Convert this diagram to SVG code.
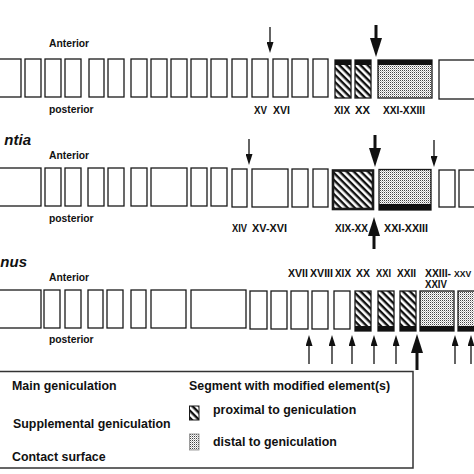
<svg xmlns="http://www.w3.org/2000/svg" width="474" height="474" viewBox="0 0 474 474">
<style>
.box{fill:#fff;stroke:#1a1a1a;stroke-width:1.3}
.hat{fill:url(#hatch);stroke:#1a1a1a;stroke-width:1.3}
.stp{fill:url(#stip);stroke:#1a1a1a;stroke-width:1.3}
.band{fill:#111}
.t{font-family:"Liberation Sans",Arial,sans-serif;font-weight:bold;fill:#111}
.pos{font-size:10.3px}
.num{font-size:11px}
.leg{font-size:12.4px}
.ttl{font-size:15px;font-style:italic}
.thin{stroke:#111;stroke-width:1.3;fill:none;marker-end:url(#hThin)}
.thick{stroke:#111;stroke-width:3;fill:none;marker-end:url(#hThick)}
</style>
<defs>
<pattern id="hatch" width="5" height="5" patternUnits="userSpaceOnUse" patternTransform="rotate(45)">
<rect width="5" height="5" fill="#fff"/><rect width="5" height="2.4" fill="#111"/>
</pattern>
<pattern id="stip" width="2" height="2" patternUnits="userSpaceOnUse">
<rect width="2" height="2" fill="#fff"/><rect width="1" height="1" fill="#444"/><rect x="1" y="1" width="1" height="1" fill="#bbb"/>
</pattern>
<marker id="hThin" viewBox="0 0 11 7" markerWidth="11" markerHeight="7" refX="5" refY="3.5" orient="auto" markerUnits="userSpaceOnUse"><path d="M0,0 L11,3.5 L0,7 z" fill="#111"/></marker>
<marker id="hThick" viewBox="0 0 19 12" markerWidth="19" markerHeight="12" refX="8" refY="6" orient="auto" markerUnits="userSpaceOnUse"><path d="M0,0 L19,6 L0,12 z" fill="#111"/></marker>
</defs>
<rect width="474" height="474" fill="#fff"/>

<g id="row1">
<text class="t pos" x="49" y="47">Anterior</text>
<text class="t pos" x="49" y="113">posterior</text>
<g id="row1-plain">
<rect class="box" x="-20" y="59" width="41" height="38"/>
<rect class="box" x="25" y="59" width="16" height="38"/>
<rect class="box" x="45" y="59" width="16" height="38"/>
<rect class="box" x="65" y="59" width="16" height="38"/>
<rect class="box" x="89" y="59" width="15" height="38"/>
<rect class="box" x="108" y="59" width="16" height="38"/>
<rect class="box" x="131" y="59" width="16" height="38"/>
<rect class="box" x="151" y="59" width="16" height="38"/>
<rect class="box" x="171" y="59" width="16" height="38"/>
<rect class="box" x="191" y="59" width="16" height="38"/>
<rect class="box" x="211" y="59" width="16" height="38"/>
<rect class="box" x="232" y="59" width="15" height="38"/>
<rect class="box" x="252" y="59" width="16" height="38"/>
<rect class="box" x="273" y="59" width="15" height="38"/>
<rect class="box" x="292" y="59" width="16" height="38"/>
<rect class="box" x="313" y="59" width="15" height="38"/>
<rect class="box" x="439" y="60" width="60" height="39"/>
</g>
<g id="row1-XIX"><rect class="hat" x="335" y="60" width="16" height="38"/><rect class="band" x="335" y="60" width="16" height="5"/></g>
<g id="row1-XX"><rect class="hat" x="355" y="60" width="16" height="38"/><rect class="band" x="355" y="60" width="16" height="5"/></g>
<g id="row1-XXI-XXIII"><rect class="stp" x="378" y="60" width="54" height="38"/><rect class="band" x="378" y="60" width="54" height="5"/></g>
<text class="t num" x="254" y="114" textLength="13" lengthAdjust="spacingAndGlyphs">XV</text>
<text class="t num" x="273" y="114" textLength="17" lengthAdjust="spacingAndGlyphs">XVI</text>
<text class="t num" x="334" y="114" textLength="16" lengthAdjust="spacingAndGlyphs">XIX</text>
<text class="t num" x="355" y="114" textLength="15" lengthAdjust="spacingAndGlyphs">XX</text>
<text class="t num" x="383" y="114" textLength="42" lengthAdjust="spacingAndGlyphs">XXI-XXIII</text>
</g>

<g id="row2">
<text class="t ttl" x="31" y="145" text-anchor="end">ntia</text>
<text class="t pos" x="49" y="159">Anterior</text>
<text class="t pos" x="49" y="222">posterior</text>
<g id="row2-plain">
<rect class="box" x="-20" y="168" width="61" height="38"/>
<rect class="box" x="45" y="168" width="16" height="38"/>
<rect class="box" x="65" y="168" width="16" height="38"/>
<rect class="box" x="88" y="168" width="16" height="38"/>
<rect class="box" x="108" y="168" width="16" height="38"/>
<rect class="box" x="131" y="168" width="16" height="38"/>
<rect class="box" x="151" y="168" width="36" height="38"/>
<rect class="box" x="191" y="168" width="16" height="38"/>
<rect class="box" x="211" y="168" width="16" height="38"/>
<rect class="box" x="232" y="169" width="15" height="38"/>
<rect class="box" x="252" y="169" width="36" height="38"/>
<rect class="box" x="292" y="169" width="16" height="38"/>
<rect class="box" x="313" y="169" width="15" height="38"/>
<rect class="box" x="439" y="170" width="16" height="37"/>
<rect class="box" x="459" y="170" width="40" height="37"/>
</g>
<g id="row2-XIX-XX"><rect class="hat" x="333" y="170.5" width="40" height="38.5" style="stroke-width:2.6"/></g>
<g id="row2-XXI-XXIII"><rect class="stp" x="379" y="169.5" width="52" height="40.5"/><rect class="band" x="379" y="204" width="52" height="6"/></g>
<text class="t num" x="232" y="232" textLength="15" lengthAdjust="spacingAndGlyphs">XIV</text>
<text class="t num" x="252" y="232" textLength="35" lengthAdjust="spacingAndGlyphs">XV-XVI</text>
<text class="t num" x="335" y="232" textLength="33" lengthAdjust="spacingAndGlyphs">XIX-XX</text>
<text class="t num" x="384" y="232" textLength="44" lengthAdjust="spacingAndGlyphs">XXI-XXIII</text>
</g>

<g id="row3">
<text class="t ttl" x="27" y="267" text-anchor="end">nus</text>
<text class="t pos" x="49" y="281">Anterior</text>
<text class="t pos" x="49" y="343">posterior</text>
<g id="row3-plain">
<rect class="box" x="-20" y="290" width="61" height="38"/>
<rect class="box" x="44" y="290" width="16" height="38"/>
<rect class="box" x="65" y="290" width="16" height="38"/>
<rect class="box" x="88" y="290" width="15" height="38"/>
<rect class="box" x="107" y="290" width="16" height="38"/>
<rect class="box" x="131" y="290" width="15" height="38"/>
<rect class="box" x="151" y="290" width="35" height="38"/>
<rect class="box" x="191" y="290" width="55" height="38"/>
<rect class="box" x="250" y="291" width="17" height="38"/>
<rect class="box" x="271" y="291" width="16" height="38"/>
<rect class="box" x="291" y="291" width="17" height="38"/>
<rect class="box" x="312" y="291" width="16" height="38"/>
<rect class="box" x="334" y="291" width="16" height="38"/>
</g>
<g id="row3-XX"><rect class="hat" x="355" y="291" width="16" height="40"/><rect class="band" x="355" y="326" width="16" height="5"/></g>
<g id="row3-XXI"><rect class="hat" x="378" y="291" width="16" height="40"/><rect class="band" x="378" y="326" width="16" height="5"/></g>
<g id="row3-XXII"><rect class="hat" x="400" y="291" width="16" height="40"/><rect class="band" x="400" y="326" width="16" height="5"/></g>
<g id="row3-XXIII-XXIV"><rect class="stp" x="420" y="291" width="34" height="40"/><rect class="band" x="420" y="326" width="34" height="5"/></g>
<g id="row3-XXV"><rect class="stp" x="458" y="291" width="40" height="40"/><rect class="band" x="458" y="326" width="40" height="5"/></g>
<text class="t num" x="288" y="277" textLength="20" lengthAdjust="spacingAndGlyphs">XVII</text>
<text class="t num" x="310" y="277" textLength="23" lengthAdjust="spacingAndGlyphs">XVIII</text>
<text class="t num" x="335" y="277" textLength="16" lengthAdjust="spacingAndGlyphs">XIX</text>
<text class="t num" x="356" y="277" textLength="14" lengthAdjust="spacingAndGlyphs">XX</text>
<text class="t num" x="376" y="277" textLength="15" lengthAdjust="spacingAndGlyphs">XXI</text>
<text class="t num" x="397" y="277" textLength="19" lengthAdjust="spacingAndGlyphs">XXII</text>
<text class="t num" x="425" y="277" textLength="26" lengthAdjust="spacingAndGlyphs">XXIII-</text>
<text class="t num" x="425" y="288" textLength="22" lengthAdjust="spacingAndGlyphs">XXIV</text>
<text class="t" x="454" y="277" style="font-size:8.6px">XXV</text>
</g>

<g id="connectors">
<line class="thin" x1="270" y1="27" x2="270" y2="47"/>
<line class="thick" x1="376" y1="25" x2="376" y2="46"/>
<line class="thin" x1="249" y1="139" x2="249" y2="159"/>
<line class="thick" x1="375" y1="135" x2="375" y2="156"/>
<line class="thin" x1="434" y1="140" x2="434" y2="161"/>
<line class="thick" x1="374" y1="249" x2="374" y2="228"/>
<line class="thin" x1="309" y1="364" x2="309" y2="341"/>
<line class="thin" x1="332" y1="364" x2="332" y2="341"/>
<line class="thin" x1="352" y1="364" x2="352" y2="341"/>
<line class="thin" x1="374" y1="364" x2="374" y2="341"/>
<line class="thin" x1="396" y1="364" x2="396" y2="341"/>
<line class="thick" x1="417" y1="370" x2="417" y2="345"/>
<line class="thin" x1="455" y1="364" x2="455" y2="341"/>
<line class="thin" x1="471" y1="364" x2="471" y2="341"/>
</g>

<g id="legend">
<rect x="-10" y="371.5" width="423" height="96.5" fill="none" stroke="#333" stroke-width="1.5"/>
<text class="t leg" x="12" y="390">Main geniculation</text>
<text class="t leg" x="13" y="428">Supplemental geniculation</text>
<text class="t leg" x="12" y="461">Contact surface</text>
<text class="t leg" x="189" y="390">Segment with modified element(s)</text>
<rect class="hat" x="189.5" y="406" width="9.5" height="14" style="stroke-width:1"/>
<text class="t leg" x="213" y="414">proximal to geniculation</text>
<rect class="stp" x="189.5" y="434" width="9.5" height="16" style="stroke-width:0.8;stroke:#888"/>
<text class="t leg" x="213" y="446">distal to geniculation</text>
</g>
</svg>
